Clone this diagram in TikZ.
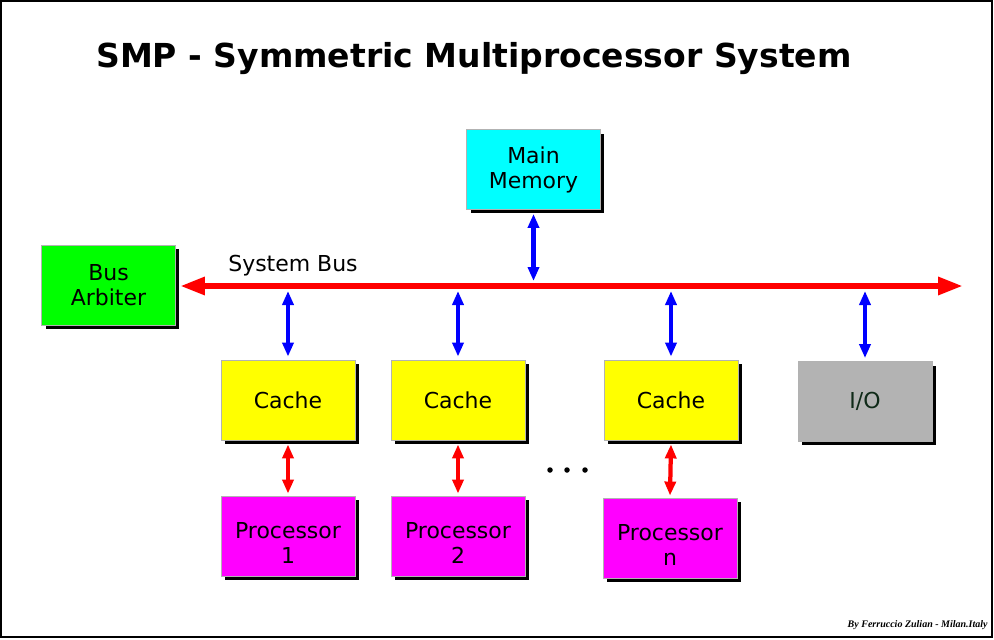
\documentclass[tikz,border=0pt]{standalone}
\usepackage{fontspec}
\setmainfont{DejaVu Sans}
\newfontfamily\creditfont{Liberation Serif}
\usetikzlibrary{arrows.meta, positioning, calc, shadows}
\definecolor{memcyan}{HTML}{00FFFF}
\definecolor{arbgreen}{HTML}{00FF00}
\definecolor{cacheyellow}{HTML}{FFFF00}
\definecolor{procmagenta}{HTML}{FF00FF}
\definecolor{iogray}{HTML}{B3B3B3}
\definecolor{iotext}{HTML}{0F2A18}
\definecolor{busred}{HTML}{FF0000}
\definecolor{linkblue}{HTML}{0000FF}
\newcommand{\proclabel}[1]{\rule{0pt}{17pt}Processor\\#1}

\tikzset{
  unitbox/.style={draw=black!30, line width=0.5pt, minimum width=2.68cm, minimum height=1.6cm,
    align=center, font=\fontsize{12.5}{14.2}\selectfont,
    drop shadow={shadow xshift=0.08cm, shadow yshift=-0.08cm, fill=black, opacity=1}},
  procbox/.style={unitbox, fill=procmagenta},
  blink/.style={linkblue, line width=0.085cm, {Triangle[length=0.28cm,width=0.22cm]}-{Triangle[length=0.28cm,width=0.22cm]}},
  rlink/.style={busred, line width=0.085cm, {Triangle[length=0.28cm,width=0.22cm]}-{Triangle[length=0.28cm,width=0.22cm]}},
}

\begin{document}
\begin{tikzpicture}[x=0.02cm, y=-0.02cm]
  % Page frame
  \useasboundingbox (0,0) rectangle (994,639);
  \fill[white] (0,0) rectangle (994,639);
  \draw[black, line width=0.04cm] (1,1) rectangle (992,637);

  % Title
  \node[font=\fontsize{18.8}{18.8}\selectfont\bfseries] (title) at (474,59) {SMP - Symmetric Multiprocessor System};

  % Memory and arbiter
  \node[unitbox, fill=memcyan] (mem) at (533.5,169.5) {Main\\Memory};
  \node[unitbox, fill=arbgreen] (arb) at (108.5,285) {Bus\\Arbiter};

  % Caches and I/O
  \node[unitbox, fill=cacheyellow] (cache1) at (288,400) {Cache};
  \node[unitbox, fill=cacheyellow] (cache2) at (458,400) {Cache};
  \node[unitbox, fill=cacheyellow] (cachen) at (671,400) {Cache};
  \node[unitbox, fill=iogray, text=iotext] (io) at (865,401.5) {I/O};

  % Processors
  \node[procbox] (proc1) at (288,536) {\proclabel{1}};
  \node[procbox] (proc2) at (458,536) {\proclabel{2}};
  \node[procbox] (procn) at (670,538) {\proclabel{n}};

  % System bus
  \coordinate (busL) at (180,286);
  \coordinate (busR) at (963,286);
  \draw[busred, line width=0.12cm, {Triangle[length=0.5cm,width=0.34cm]}-{Triangle[length=0.5cm,width=0.34cm]}] (busL) -- (busR);
  \node[font=\fontsize{12.5}{14.2}\selectfont] (buslabel) at (293,266) {System Bus};

  % Bus taps
  \draw[blink] ([yshift=-0.08cm]mem.south) -- ([yshift=0.1cm]mem.south |- busL);
  \foreach \n in {cache1, cache2, cachen, io} {
    \draw[blink] ([yshift=-0.1cm]\n.north |- busL) -- ([yshift=0.06cm]\n.north);
  }

  % Cache to processor links
  \foreach \c/\p in {cache1/proc1, cache2/proc2, cachen/procn} {
    \draw[rlink] ([yshift=-0.08cm]\c.south) -- ([yshift=0.04cm]\p.north);
  }

  % Ellipsis
  \foreach \x in {550,567,585} {
    \fill[black] (\x,470) circle (0.055cm);
  }

  % Credit
  \node[font=\creditfont\fontsize{5.7}{6}\selectfont\bfseries\itshape, anchor=east, inner sep=0pt] (credit) at (988,625) {By Ferruccio Zulian - Milan.Italy};
\end{tikzpicture}
\end{document}
